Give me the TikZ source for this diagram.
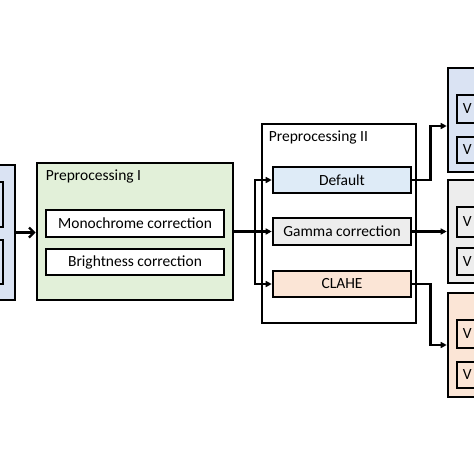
\documentclass[tikz,border=0pt]{standalone}
\usepackage{fontspec}
\setmainfont{Carlito}
\usetikzlibrary{arrows.meta}
\definecolor{bluefill}{HTML}{DAE3F3}
\definecolor{greenfill}{HTML}{E2F0D9}
\definecolor{skyfill}{HTML}{DEEBF7}
\definecolor{grayfill}{HTML}{EDEDED}
\definecolor{peachfill}{HTML}{FBE5D6}

\begin{document}
\begin{tikzpicture}[x=1pt,y=-1pt,line width=2.4pt,
  font=\fontsize{15.5}{18}\selectfont,
  box/.style={draw,line width=2.6pt,inner sep=0pt},
  tri/.style={-{Triangle[length=6pt,width=6pt]}},
  title/.style={anchor=base west,inner sep=0pt}]
  \useasboundingbox (0,0) rectangle (474,474);
  \clip (0,0) rectangle (474,474);

  % input block (cut at the left edge)
  \node[box,fill=bluefill,minimum width=35pt,minimum height=135pt] (inbox) at (-2.5,232.5) {};
  \node[box,fill=bluefill,minimum width=23pt,minimum height=45pt] (inA) at (-8.5,204.5) {};
  \node[box,fill=bluefill,minimum width=23pt,minimum height=44pt] (inB) at (-8.5,262) {};

  % preprocessing I
  \node[box,fill=greenfill,minimum width=196pt,minimum height=137pt] (prepI) at (135,231.5) {};
  \node[title] (prepItitle) at ([shift={(9,19)}]prepI.north west) {Preprocessing I};
  \node[box,fill=white,minimum width=178pt,minimum height=27pt] (mono) at (135,223.5) {Monochrome correction};
  \node[box,fill=white,minimum width=178pt,minimum height=26pt] (bright) at (135,262) {Brightness correction};

  % preprocessing II
  \node[box,minimum width=154pt,minimum height=199pt] (prepII) at (339,223.5) {};
  \node[title] (prepIItitle) at ([shift={(7,19)}]prepII.north west) {Preprocessing II};
  \node[box,fill=skyfill,minimum width=138pt,minimum height=26pt] (default) at (342,180) {Default};
  \node[box,fill=grayfill,minimum width=138pt,minimum height=27pt] (gamma) at (342,231.5) {Gamma correction};
  \node[box,fill=peachfill,minimum width=138pt,minimum height=26pt] (clahe) at (342,284) {CLAHE};

  % output blocks (cut at the right edge)
  \node[box,fill=bluefill,minimum width=62pt,minimum height=104pt] (outA) at (479,120) {};
  \node[box,fill=bluefill,minimum width=53pt,minimum height=28pt] (outAa) at (483.5,109) {};
  \node[box,fill=bluefill,minimum width=53pt,minimum height=26pt] (outAb) at (483.5,150) {};
  \node[box,fill=grayfill,minimum width=62pt,minimum height=103pt] (outB) at (479,231.5) {};
  \node[box,fill=grayfill,minimum width=53pt,minimum height=30pt] (outBa) at (483.5,222) {};
  \node[box,fill=grayfill,minimum width=53pt,minimum height=27pt] (outBb) at (483.5,261.5) {};
  \node[box,fill=peachfill,minimum width=62pt,minimum height=104pt] (outC) at (479,345) {};
  \node[box,fill=peachfill,minimum width=53pt,minimum height=28pt] (outCa) at (483.5,334) {};
  \node[box,fill=peachfill,minimum width=53pt,minimum height=26pt] (outCb) at (483.5,375) {};
  \foreach \n in {outAa,outAb,outBa,outBb,outCa,outCb}
    \node[anchor=west,inner sep=0pt] at ([xshift=6pt]\n.west) {V};

  % connectors
  \draw[-{Straight Barb[length=5pt,width=10pt]}] (inbox.east) -- (inbox.east -| prepI.west);
  \draw[tri] (prepI.east) -- (gamma.west);
  \coordinate (split) at (255,231.5);
  \draw[tri] (split) |- (default.west);
  \draw[tri] (split) |- (clahe.west);
  \draw[tri] (default.east) -- ++(18,0) |- ([yshift=-6pt]outA.west);
  \draw[tri] (gamma.east) -- (outB.west);
  \draw[tri] (clahe.east) -- ++(18,0) |- (outC.west);
\end{tikzpicture}
\end{document}
